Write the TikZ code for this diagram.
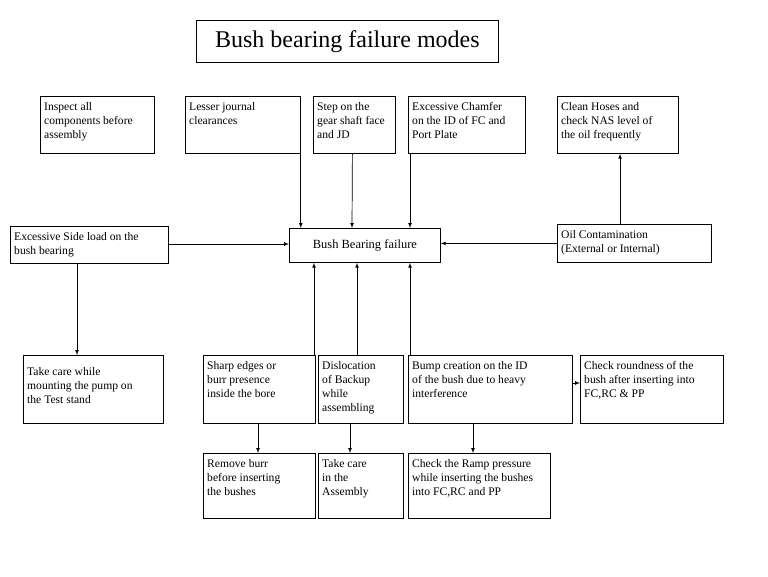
\documentclass[tikz,border=0pt]{standalone}
\usepackage{fontspec}
\setmainfont{Liberation Serif}
\begin{document}
\begin{tikzpicture}[x=1pt,y=-1pt,
  box/.style={draw,line width=0.8pt,rectangle,inner sep=0pt,anchor=north west},
  txt/.style={anchor=north west,align=left,inner sep=2pt,font=\fontsize{11.6}{14.2}\selectfont},
  arr/.style={-latex,line width=0.7pt}]
\useasboundingbox (0,0) rectangle (768,576);
\newcommand\bx[6]{\node[box,minimum width=#4-#2,minimum height=#5-#3] (#1) at (#2,#3) {};
  \node[txt] at (#2+2,#3+4) {#6};}
\node[box,minimum width=302,minimum height=42] (title) at (196,20) {};
\node[font=\fontsize{24}{28}\selectfont] at (title.center) {Bush bearing failure modes};
\bx{insp}{40}{96}{154}{153}{Inspect all\\components before\\assembly}
\bx{less}{185}{96}{300}{153}{Lesser journal\\clearances}
\bx{step}{313}{96}{395}{153}{Step on the\\gear shaft face\\and JD}
\bx{cham}{408}{96}{525}{153}{Excessive Chamfer\\on the ID of FC and\\Port Plate}
\bx{hose}{557}{96}{678}{153}{Clean Hoses and\\check NAS level of\\the oil frequently}
\bx{side}{10}{226}{168}{263}{Excessive Side load on the\\bush bearing}
\node[box,minimum width=151,minimum height=34] (bush) at (289,228) {};
\node[font=\fontsize{12.5}{14}\selectfont] at (bush.center) {Bush Bearing failure};
\bx{oil}{557}{224}{711}{262}{Oil Contamination\\(External or Internal)}
\bx{mount}{23}{355}{163}{423}{\\Take care while\\mounting the pump on\\the Test stand}
\bx{sharp}{203}{355}{315}{423}{Sharp edges or\\burr presence\\inside the bore}
\bx{disl}{318}{355}{403}{423}{Dislocation\\of Backup\\while\\assembling}
\bx{bump}{408}{355}{572}{423}{Bump creation on the ID\\of the  bush due to heavy\\interference}
\bx{round}{580}{355}{723}{423}{Check roundness of the\\bush after inserting into\\FC,RC \& PP}
\bx{burr}{203}{453}{315}{518}{Remove burr\\before inserting\\the bushes}
\bx{asm}{318}{453}{403}{518}{Take care\\in the\\Assembly}
\bx{ramp}{408}{453}{550}{518}{Check the Ramp pressure\\while inserting the bushes\\into FC,RC and PP}
\draw[arr] (less.south east) -- (bush.north -| less.south east);
\draw[arr] (step.south) ++(-2,0) -- (352,228);
\draw[arr] (cham.south west) ++(2,0) -- (410,228);
\draw[arr] (oil.west) -- (bush.east |- oil.west);
\draw[arr] (oil.north -| 620,0) -- (hose.south -| 620,0);
\draw[arr] (side.east |- 0,244) -- (bush.west |- 0,244);
\draw[arr] (side.south -| 77,0) -- (mount.north -| 77,0);
\draw[arr] (sharp.north -| 314,0) -- (bush.south -| 314,0);
\draw[arr] (disl.north -| 357,0) -- (bush.south -| 357,0);
\draw[arr] (bump.north -| 410,0) -- (bush.south -| 410,0);
\draw[arr] (sharp.south -| 258,0) -- (burr.north -| 258,0);
\draw[arr] (disl.south -| 350,0) -- (asm.north -| 350,0);
\draw[arr] (bump.south -| 473,0) -- (ramp.north -| 473,0);
\draw[arr] (bump.east |- 0,383) -- (round.west |- 0,383);
\end{tikzpicture}
\end{document}
